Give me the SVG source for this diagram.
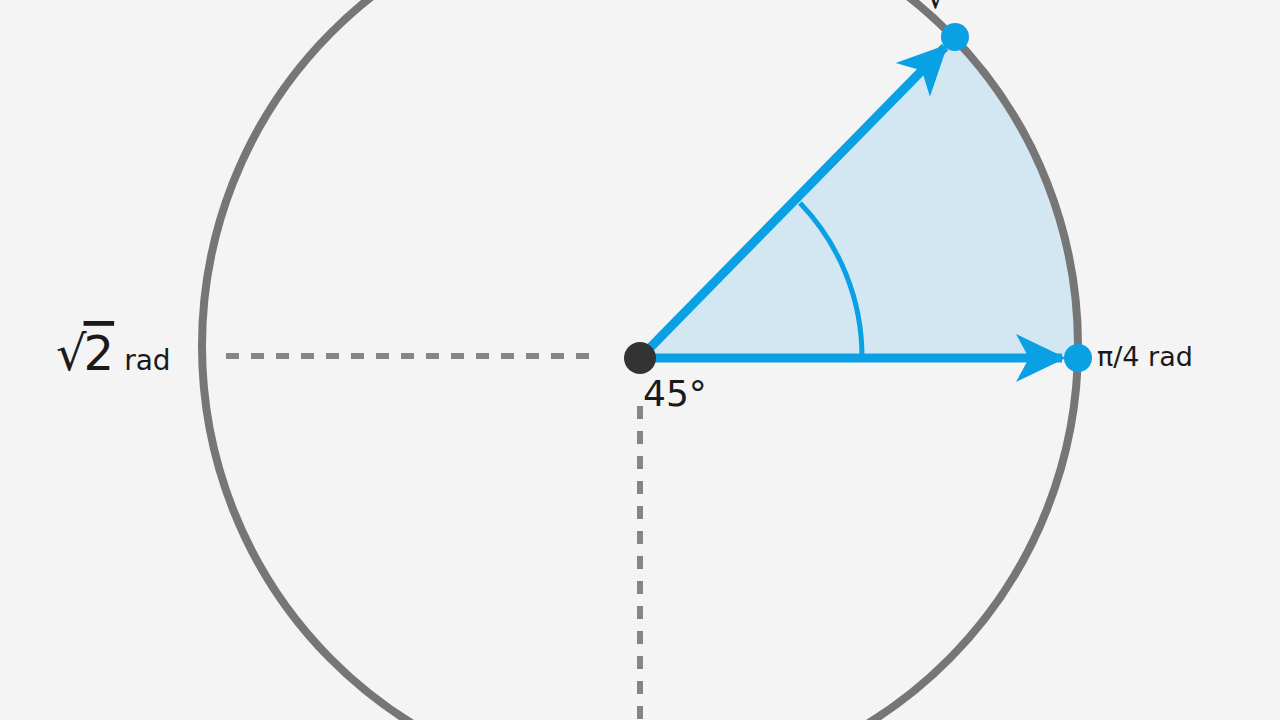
<svg xmlns="http://www.w3.org/2000/svg" width="1280" height="720" viewBox="0 0 1280 720">
<style>
.lbl{font-family:"DejaVu Sans","Liberation Sans",sans-serif;fill:#1a1a1a}
.dash{stroke:#858585;stroke-width:6;stroke-dasharray:13 12;fill:none}
.vec{stroke:#0aa0e4;stroke-width:9;fill:none}
</style>
<defs>
<marker id="ah" markerUnits="userSpaceOnUse" markerWidth="60" markerHeight="60" viewBox="-50 -30 60 60" refX="0" refY="0" orient="auto">
<path d="M4,0 L-46,-24 L-33,0 L-46,24 Z" fill="#0aa0e4"/>
</marker>
</defs>
<rect width="1280" height="720" fill="#f4f4f4"/>
<g id="sector">
<path d="M640,358 L1078,358 A438,442 0 0 0 955,37 Z" fill="#d3e7f2"/>
</g>
<g id="circle">
<ellipse cx="640" cy="346" rx="438" ry="442" fill="none" stroke="#767676" stroke-width="8"/>
</g>
<g id="connectors">
<line class="dash" x1="226" y1="356" x2="600" y2="356"/>
<line class="dash" x1="640" y1="406" x2="640" y2="720"/>
<path class="vec" d="M640,358 L1062,358" marker-end="url(#ah)"/>
<path class="vec" d="M640,358 L945,47" marker-end="url(#ah)"/>
<path d="M862,358 A222,222 0 0 0 800,203" fill="none" stroke="#0aa0e4" stroke-width="5"/>
</g>
<g id="origin"><circle cx="640" cy="358" r="16" fill="#333"/></g>
<g id="p1"><circle cx="1078" cy="358" r="14" fill="#0aa0e4"/></g>
<g id="p2"><circle cx="955" cy="37" r="14" fill="#0aa0e4"/></g>
<g id="labels">
<text class="lbl" x="56" y="370" font-size="48">√<tspan dx="-3" text-decoration="overline">2</tspan><tspan font-size="28" dx="10">rad</tspan></text>
<text class="lbl" x="1097" y="366" font-size="27">π/4 rad</text>
<text class="lbl" x="643" y="406" font-size="36">45°</text>
<text class="lbl" x="926" y="8" font-size="34">√</text>
</g>
</svg>
